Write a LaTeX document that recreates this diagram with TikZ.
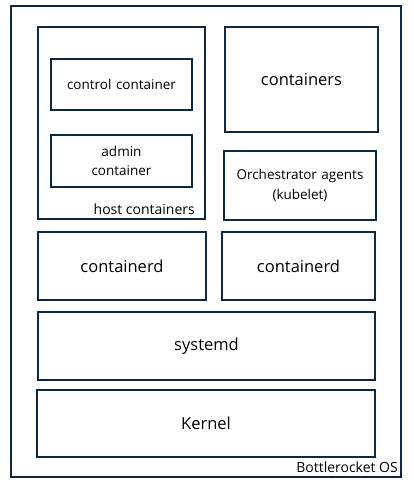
\documentclass[tikz,border=0pt]{standalone}
\usepackage{fontspec}
\setmainfont{Open Sans}
\definecolor{layerline}{HTML}{0E2841}

\begin{document}
\begin{tikzpicture}[x=1pt, y=-1pt,
  layer/.style={draw=layerline, line width=2pt, inner sep=2pt, align=center,
                text width=#1-8pt, font=\fontsize{16.5}{20}\selectfont},
  layer/.default=100pt,
  small/.style={font=\fontsize{13.5}{19.5}\selectfont},
  tag/.style={inner sep=0pt, font=\fontsize{14}{16}\selectfont}]

\useasboundingbox (0,0) rectangle (413,489);

% Outer frame of the OS
\node [draw=layerline, line width=2pt, minimum width=390pt, minimum height=471pt] (os) at (206,241.5) {};
\node [tag, anchor=south east] (oslabel) at (398,473) {Bottlerocket OS};

% Host containers group
\node [draw=layerline, line width=2pt, minimum width=167pt, minimum height=192pt] (host) at (121.5,123) {};
\node [tag, anchor=south east] (hostlabel) at (195,215) {host containers};
\node [layer=141pt, small, minimum width=141pt, minimum height=51pt] (control) at (121.5,84.5) {control container};
\node [layer=141pt, small, minimum width=141pt, minimum height=51pt] (admin) at (121.5,161) {admin\\container};

% Right column
\node [layer=153pt, minimum width=153pt, minimum height=105pt] (containers) at (301.5,79.5) {containers};
\node [layer=152pt, small, minimum width=152pt, minimum height=68pt] (orch) at (300,185.5) {Orchestrator agents\\(kubelet)};

% Runtimes
\node [layer=168pt, minimum width=168pt, minimum height=68pt] (ctrd1) at (122,266) {containerd};
\node [layer=153pt, minimum width=153pt, minimum height=68pt] (ctrd2) at (298.5,266) {containerd};

% Base layers
\node [layer=337pt, minimum width=337pt, minimum height=68pt] (systemd) at (206.5,346) {systemd};
\node [layer=338pt, minimum width=338pt, minimum height=67pt] (kernel) at (206,423.5) {Kernel};

\end{tikzpicture}
\end{document}
